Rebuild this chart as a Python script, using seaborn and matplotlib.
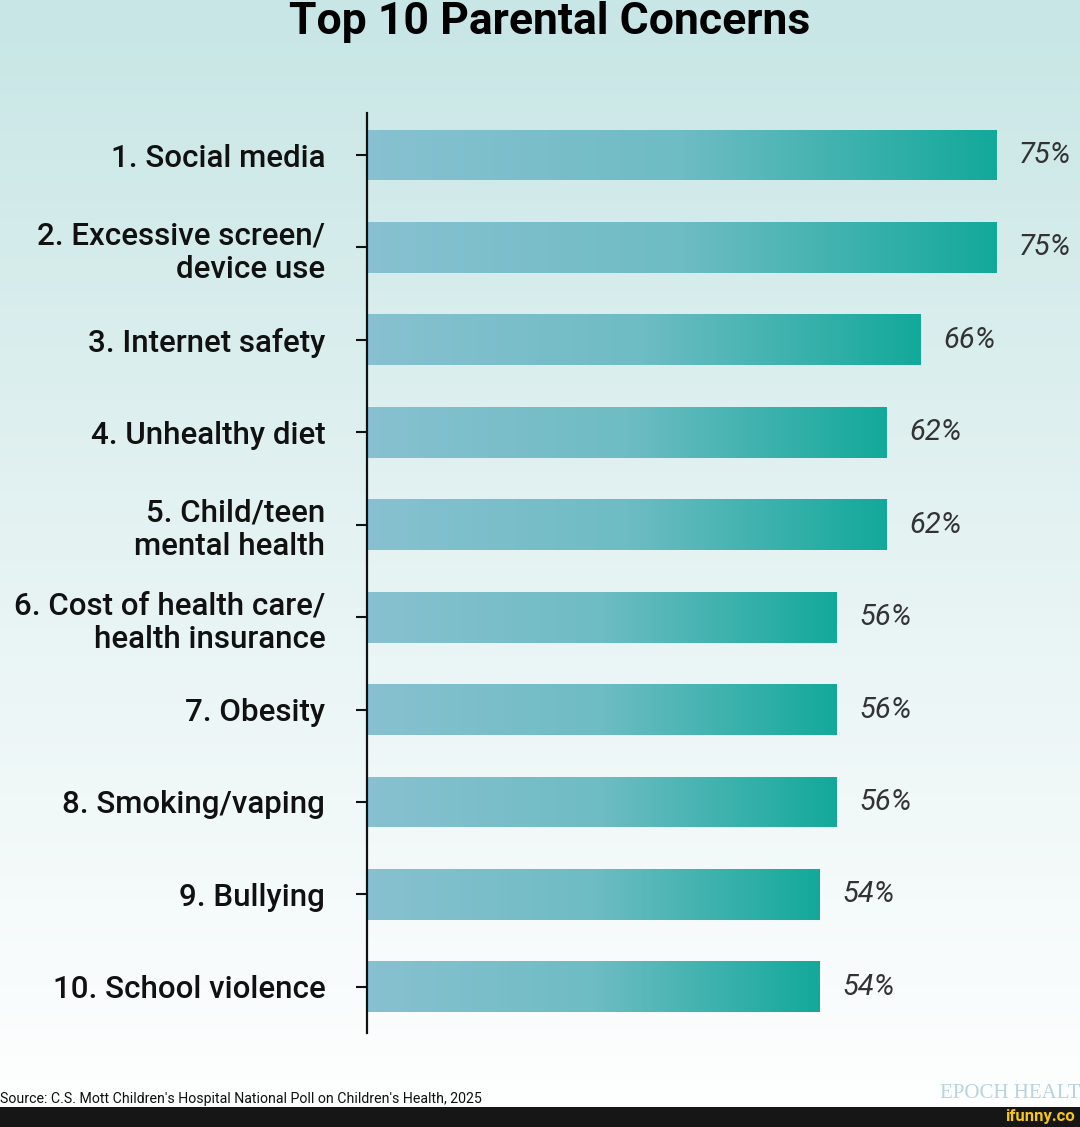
import numpy as np
import pandas as pd
import matplotlib
matplotlib.use("Agg")
import matplotlib.pyplot as plt
import seaborn as sns
from matplotlib.colors import LinearSegmentedColormap

# data
concerns = [
    "1. Social media",
    "2. Excessive screen/\ndevice use",
    "3. Internet safety",
    "4. Unhealthy diet",
    "5. Child/teen\nmental health",
    "6. Cost of health care/\nhealth insurance",
    "7. Obesity",
    "8. Smoking/vaping",
    "9. Bullying",
    "10. School violence",
]
shares = [75, 75, 66, 62, 62, 56, 56, 56, 54, 54]
title = "Top 10 Parental Concerns"
source = "Source: C.S. Mott Children's Hospital National Poll on Children's Health, 2025"

df = pd.DataFrame({"concern": concerns, "share": shares})

sns.set_theme(style="white")
plt.rcParams["font.family"] = ["Roboto", "DejaVu Sans"]

W, H = 1080, 1127
fig = plt.figure(figsize=(W / 100, H / 100), dpi=100)

# background gradient
bg = fig.add_axes([0, 0, 1, 1], zorder=-10)
bg_cmap = LinearSegmentedColormap.from_list("bg", ["#c7e6e5", "#e6f3f3", "#ffffff"])
bg.imshow(np.linspace(0, 1, 256).reshape(-1, 1), aspect="auto", cmap=bg_cmap,
          extent=[0, 1, 0, 1], origin="upper")
bg.axis("off")

# main axes
left, right = 367 / W, 1.0
bottom, top = 1 - 1033 / H, 1 - 113 / H
ax = fig.add_axes([left, bottom, right - left, top - bottom])
ax.set_facecolor("none")

sns.barplot(data=df, x="share", y="concern", orient="h", width=0.55,
            color="#5ab5b5", ax=ax)

bar_cmap = LinearSegmentedColormap.from_list("bar", ["#88c1d1", "#6ebcc4", "#13a99a"])
grad = np.linspace(0, 1, 256).reshape(1, -1)
for p in ax.patches:
    x0, y0 = p.get_x(), p.get_y()
    w, h = p.get_width(), p.get_height()
    im = ax.imshow(grad, aspect="auto", cmap=bar_cmap,
                   extent=[x0, x0 + w, y0 + h, y0], zorder=2)
    im.set_clip_path(p)
    p.set_facecolor("none")
    p.set_edgecolor("none")
    ax.text(x0 + w + 2.7, y0 + h / 2, f"{int(round(w))}%", ha="left", va="center",
            fontsize=21, style="italic", color="#333333", clip_on=False)

ax.set_xlim(0, (W - 367) / 8.387)
ax.set_ylim(9.5, -0.455)

for s in ["top", "right", "bottom"]:
    ax.spines[s].set_visible(False)
ax.spines["left"].set_color("#111111")
ax.spines["left"].set_linewidth(1.6)
ax.set_xticks([])
ax.set_xlabel("")
ax.set_ylabel("")
ax.tick_params(axis="y", left=True, length=8, width=1.5, color="#111111",
               pad=22, labelsize=22.5, labelcolor="#111111")
for t in ax.get_yticklabels():
    t.set_fontweight("medium")

fig.text(550 / W, 1 - 22 / H, title, ha="center", va="center", fontsize=32,
         fontweight="bold", color="#000000")

fig.text(0.0, 1 - 1099 / H, source, ha="left", va="center", fontsize=10.2,
         color="#111111")

# bottom strip
strip = fig.add_axes([0, 0, 1, 20 / H], zorder=5)
strip.set_facecolor("#161616")
strip.set_xticks([])
strip.set_yticks([])
for s in strip.spines.values():
    s.set_visible(False)
fig.text(1.0, 1 - 1093 / H, "EPOCH HEALT", ha="right", va="center", fontsize=15,
         color="#b9d3dc", family=["Liberation Serif", "DejaVu Serif"], zorder=4)
fig.text(0.995, 1 - 1117 / H, "ifunny.co", ha="right", va="center", fontsize=12,
         fontweight="bold", color="#f7c614", zorder=6)

fig.savefig("out.png", dpi=100)
